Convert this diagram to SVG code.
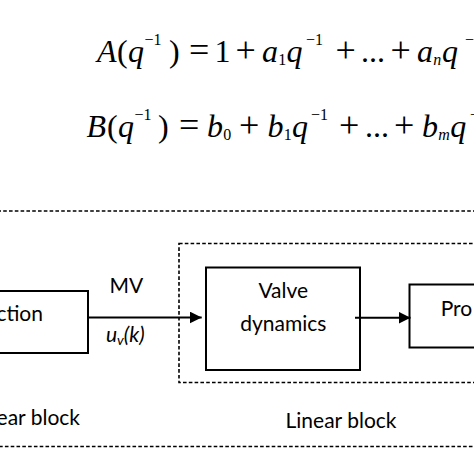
<svg xmlns="http://www.w3.org/2000/svg" width="474" height="474" viewBox="0 0 474 474">
<style>
.eq{font-family:"Liberation Serif","Times New Roman",serif;font-size:32px;fill:#000}
.it{font-style:italic}
.sm{font-size:16px}
.op{font-size:36px}
.lbl{font-family:Lato,"Liberation Sans",sans-serif;font-size:21px;fill:#000}
.box{fill:#fff;stroke:#000;stroke-width:2}
.dash{fill:none;stroke:#000;stroke-width:1.6;stroke-dasharray:3.6 2.2}
.conn{fill:none;stroke:#000;stroke-width:2}
</style>
<defs>
<marker id="ah" markerUnits="userSpaceOnUse" markerWidth="12" markerHeight="12" refX="12" refY="6" orient="auto">
<path d="M0,0 L12,6 L0,12 z" fill="#000"/>
</marker>
</defs>
<rect width="474" height="474" fill="#fff"/>
<g id="equations">
<text class="eq" y="62"><tspan class="it" x="97">A</tspan><tspan x="117">(</tspan><tspan class="it" x="128">q</tspan><tspan class="sm" x="144.5" y="45">−1</tspan><tspan x="169" y="62">)</tspan><tspan class="op" x="189">=</tspan><tspan x="214.5">1</tspan><tspan class="op" x="235.5">+</tspan><tspan class="it" x="262">a</tspan><tspan class="sm" x="278.2" y="65">1</tspan><tspan class="it" x="286.5" y="62">q</tspan><tspan class="sm" x="306" y="45">−1</tspan><tspan class="op" x="335.5" y="62">+</tspan><tspan x="361">...</tspan><tspan class="op" x="390.5">+</tspan><tspan class="it" x="417">a</tspan><tspan class="sm it" x="433.2" y="65">n</tspan><tspan class="it" x="442" y="62">q</tspan><tspan class="sm" x="465" y="45">−</tspan></text>
<text class="eq" y="137"><tspan class="it" x="86.5">B</tspan><tspan x="107">(</tspan><tspan class="it" x="118">q</tspan><tspan class="sm" x="134.5" y="120">−1</tspan><tspan x="158" y="137">)</tspan><tspan class="op" x="179">=</tspan><tspan class="it" x="207">b</tspan><tspan class="sm" x="223.2" y="140">0</tspan><tspan class="op" x="239" y="137">+</tspan><tspan class="it" x="267.5">b</tspan><tspan class="sm" x="283.7" y="140">1</tspan><tspan class="it" x="292" y="137">q</tspan><tspan class="sm" x="311" y="120">−1</tspan><tspan class="op" x="339" y="137">+</tspan><tspan x="365">...</tspan><tspan class="op" x="394">+</tspan><tspan class="it" x="422">b</tspan><tspan class="sm it" x="438.2" y="140">m</tspan><tspan class="it" x="450.2" y="137">q</tspan><tspan class="sm" x="470" y="120">−</tspan></text>
</g>
<g id="nonlinear-block">
<rect class="dash" x="-20" y="211" width="520" height="235.5"/>
<text class="lbl" x="80" y="425" text-anchor="end">ear block</text>
</g>
<g id="linear-block">
<rect class="dash" x="179" y="243.5" width="320" height="139"/>
<text class="lbl" x="341" y="427.5" text-anchor="middle">Linear block</text>
</g>
<g id="function-node">
<rect class="box" x="-20" y="291" width="108" height="62"/>
<text class="lbl" x="43" y="320.5" text-anchor="end">ction</text>
</g>
<g id="valve-node">
<rect class="box" x="206" y="267.5" width="154" height="102.5"/>
<text class="lbl" x="283.3" y="298.3" text-anchor="middle">Valve</text>
<text class="lbl" x="283.3" y="330.7" text-anchor="middle">dynamics</text>
</g>
<g id="process-node">
<rect class="box" x="409.5" y="284.5" width="100" height="63"/>
<text class="lbl" x="440.7" y="315.7">Pro</text>
</g>
<g id="connectors">
<line class="conn" x1="88" y1="317.5" x2="201.7" y2="317.5" marker-end="url(#ah)"/>
<line class="conn" x1="355" y1="317.7" x2="410.5" y2="317.7" marker-end="url(#ah)"/>
<text class="lbl" x="126.3" y="293.3" text-anchor="middle">MV</text>
<text class="lbl" x="125.3" y="341.7" text-anchor="middle" font-style="italic" font-size="22">u<tspan font-size="14" dy="3">v</tspan><tspan dy="-3">(k)</tspan></text>
</g>
</svg>
